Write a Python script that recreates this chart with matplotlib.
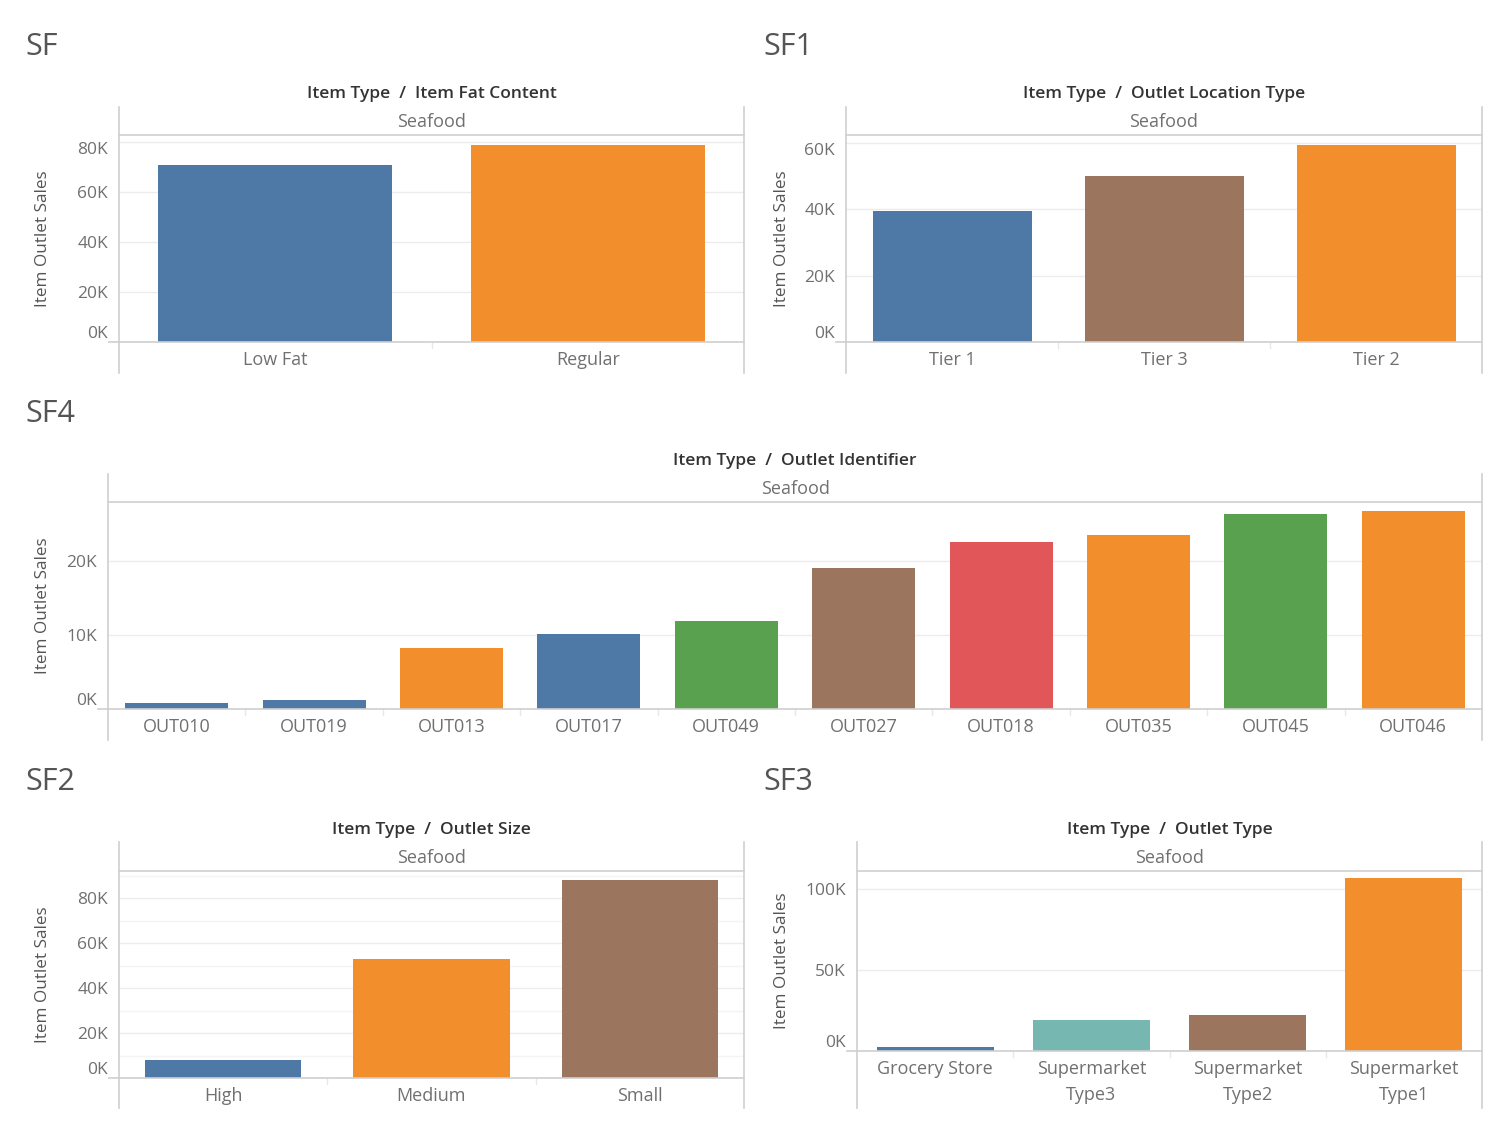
import matplotlib.pyplot as plt
from matplotlib.lines import Line2D
from matplotlib.transforms import blended_transform_factory

W, H = 1502, 1127
plt.rcParams['font.family'] = ['Open Sans', 'DejaVu Sans']

BLUE = '#4e79a7'
ORANGE = '#f28e2b'
BROWN = '#9c755f'
GREEN = '#59a14f'
RED = '#e15759'
TEAL = '#76b7b2'

# data (Seafood, Item Outlet Sales)
fat_cats = ['Low Fat', 'Regular']
fat_sales = [71000, 78700]
fat_colors = [BLUE, ORANGE]

tier_cats = ['Tier 1', 'Tier 3', 'Tier 2']
tier_sales = [39500, 49900, 59200]
tier_colors = [BLUE, BROWN, ORANGE]

outlet_ids = ['OUT010', 'OUT019', 'OUT013', 'OUT017', 'OUT049',
              'OUT027', 'OUT018', 'OUT035', 'OUT045', 'OUT046']
outlet_sales = [850, 1200, 8200, 10100, 11900, 19050, 22600, 23600, 26350, 26750]
outlet_colors = [BLUE, BLUE, ORANGE, BLUE, GREEN, BROWN, RED, ORANGE, GREEN, ORANGE]

size_cats = ['High', 'Medium', 'Small']
size_sales = [8000, 52900, 88000]
size_colors = [BLUE, ORANGE, BROWN]

type_cats = ['Grocery Store', 'Supermarket\nType3', 'Supermarket\nType2', 'Supermarket\nType1']
type_sales = [2300, 18950, 22200, 106600]
type_colors = [BLUE, TEAL, BROWN, ORANGE]

fig = plt.figure(figsize=(W / 100, H / 100), dpi=100)
fig.patch.set_facecolor('white')

BORDER = '#cfcfcf'


def fx(x):
    return x / W


def fy(y):
    return 1 - y / H


def line(x0, y0, x1, y1, color=BORDER, lw=1.2):
    fig.add_artist(Line2D([fx(x0), fx(x1)], [fy(y0), fy(y1)], color=color, lw=lw,
                          transform=fig.transFigure))


def panel(name, name_x, name_y, title, cats, vals, colors, left, right, top, head, base,
          bottom, ymax, ticks, ylab_x, minor=None):
    fig.text(fx(name_x), fy(name_y), name, fontsize=22, color='#555555', va='center', ha='left')
    cx = (left + right) / 2
    fig.text(fx(cx), fy(head - 41), title, fontsize=12.5, fontweight='semibold', color='#333333',
             ha='center', va='center')
    fig.text(fx(cx), fy(head - 13), 'Seafood', fontsize=13, color='#707070',
             ha='center', va='center')
    fig.text(fx(ylab_x), fy((head + base) / 2), 'Item Outlet Sales', rotation=90, fontsize=12.3,
             color='#555555', ha='center', va='center')

    ax = fig.add_axes([fx(left), fy(base), (right - left) / W, (base - head) / H])
    ax.bar(range(len(cats)), vals, width=0.75, color=colors, zorder=3)
    ax.set_xlim(-0.5, len(cats) - 0.5)
    ax.set_ylim(0, ymax)
    ax.set_xticks([])
    ax.set_yticks(ticks)
    ax.set_yticklabels([f'{t // 1000}K' for t in ticks])
    if minor:
        ax.set_yticks(minor, minor=True)
        ax.grid(axis='y', which='minor', color='#f4f4f4', lw=1, zorder=0)
    ax.grid(axis='y', which='major', color='#ececec', lw=1, zorder=0)
    ax.tick_params(axis='y', which='both', length=0, pad=8, labelsize=12.5, labelcolor='#707070')
    for s in ax.spines.values():
        s.set_visible(False)
    px_per = (base - head) / ymax
    for t, lab in zip(ticks, ax.get_yticklabels()):
        if t == 0:
            lab.set_va('bottom')
        elif (ymax - t) * px_per < 8:
            lab.set_va('top')

    tr = blended_transform_factory(ax.transData, fig.transFigure)
    for i, c in enumerate(cats):
        ax.text(i, fy(base + 9), c, transform=tr, ha='center', va='top', fontsize=13,
                color='#707070', linespacing=1.55)
    for i in range(len(cats) - 1):
        ax.add_artist(Line2D([i + 0.5, i + 0.5], [fy(base), fy(base + 6)], color='#e8e8e8',
                             lw=1, transform=tr, clip_on=False))

    line(left, top, left, bottom)
    line(right, top, right, bottom)
    line(left, head, right, head)
    line(left - 10, base, right, base)


panel('SF', 25, 47, 'Item Type  /  Item Fat Content', fat_cats, fat_sales, fat_colors,
      119, 744, 107, 135, 342, 373, 82800, [0, 20000, 40000, 60000, 80000], 43)
panel('SF1', 763, 47, 'Item Type  /  Outlet Location Type', tier_cats, tier_sales, tier_colors,
      846, 1482, 107, 135, 342, 373, 62300, [0, 20000, 40000, 60000], 782)
panel('SF4', 25, 414, 'Item Type  /  Outlet Identifier', outlet_ids, outlet_sales, outlet_colors,
      108, 1482, 474, 502, 709, 740, 28000, [0, 10000, 20000], 43)
panel('SF2', 25, 782, 'Item Type  /  Outlet Size', size_cats, size_sales, size_colors,
      119, 744, 842, 871, 1078, 1108, 92000, [0, 20000, 40000, 60000, 80000], 43,
      minor=[10000, 30000, 50000, 70000, 90000])
panel('SF3', 763, 782, 'Item Type  /  Outlet Type', type_cats, type_sales, type_colors,
      857, 1482, 842, 871, 1051, 1108, 111000, [0, 50000, 100000], 782)

fig.savefig('out.png', dpi=100)
